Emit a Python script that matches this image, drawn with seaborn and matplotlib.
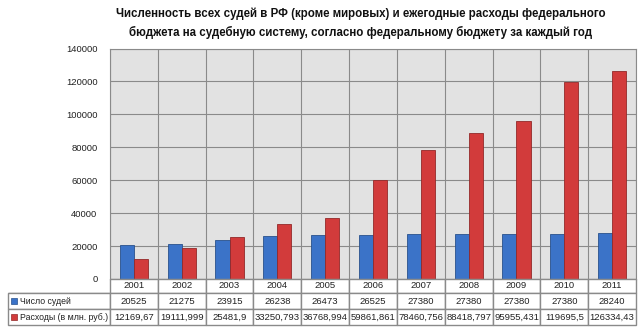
import matplotlib
matplotlib.use("Agg")
import matplotlib.pyplot as plt
import seaborn as sns
import pandas as pd
import numpy as np
from matplotlib.table import Table
from matplotlib.patches import Rectangle

years = ["2001", "2002", "2003", "2004", "2005", "2006", "2007", "2008", "2009", "2010", "2011"]
judges = [20525, 21275, 23915, 26238, 26473, 26525, 27380, 27380, 27380, 27380, 28240]
expenses = [12169.67, 19111.999, 25481.9, 33250.793, 36768.994, 59861.861, 78460.756,
            88418.797, 95955.431, 119695.5, 126334.43]
judges_txt = ["20525", "21275", "23915", "26238", "26473", "26525", "27380", "27380", "27380", "27380", "28240"]
expenses_txt = ["12169,67", "19111,999", "25481,9", "33250,793", "36768,994", "59861,861",
                "78460,756", "88418,797", "95955,431", "119695,5", "126334,43"]
series = ["Число судей", "Расходы (в млн. руб.)"]
colors = ["#3b73c8", "#d23b3b"]
title = ("Численность всех судей в РФ (кроме мировых) и ежегодные расходы федерального\n"
         "бюджета на судебную систему, согласно федеральному бюджету за каждый год")

df = pd.DataFrame({
    "year": years * 2,
    "value": judges + expenses,
    "series": [series[0]] * len(years) + [series[1]] * len(years),
})

sns.set_theme(style="white")
plt.rcParams["font.family"] = ["Liberation Sans", "DejaVu Sans"]

fig = plt.figure(figsize=(6.4, 3.29), dpi=100)
W, H = 640, 329
x0, x1, ytop, ybot = 110, 636, 48.5, 279
ax = fig.add_axes([x0 / W, 1 - ybot / H, (x1 - x0) / W, (ybot - ytop) / H])
ax.set_facecolor("#e2e2e2")

sns.barplot(data=df, x="year", y="value", hue="series", palette=colors, width=0.59,
            ax=ax, legend=False, edgecolor="none", saturation=1)
for i, bar in enumerate(ax.patches):
    c = colors[0] if i < len(years) else colors[1]
    dark = tuple(v * 0.7 for v in matplotlib.colors.to_rgb(c))
    bar.set_edgecolor(dark)
    bar.set_linewidth(0.6)

ax.set_ylim(0, 140000)
ax.set_xlim(-0.5, len(years) - 0.5)
ax.set_yticks(np.arange(0, 140001, 20000))
ax.set_yticklabels([str(v) for v in range(0, 140001, 20000)], fontsize=6.8, color="#222222")
ax.set_xticks([])
ax.set_xticks(np.arange(-0.5, len(years), 1), minor=True)
ax.tick_params(axis="x", which="minor", length=0)
ax.tick_params(axis="y", length=0, pad=9)
ax.grid(axis="y", color="#8a8a8a", linewidth=0.8)
ax.grid(axis="x", which="minor", color="#8a8a8a", linewidth=0.8)
ax.set_axisbelow(True)
ax.set_xlabel("")
ax.set_ylabel("")
for s in ax.spines.values():
    s.set_color("#8a8a8a")
    s.set_linewidth(0.8)

# data table
tab_left, tab_right = 8, 636
row_h = [14, 16, 16]
tab_top = ybot
tab_bottom = tab_top + sum(row_h)
tax = fig.add_axes([0, 0, 1, 1])
tax.set_xlim(0, W)
tax.set_ylim(H, 0)
tax.axis("off")
tbl = Table(tax, bbox=[tab_left / W, 1 - tab_bottom / H, (tab_right - tab_left) / W, sum(row_h) / H])
lab_w = (x0 - tab_left) / (tab_right - tab_left)
col_w = (1 - lab_w) / len(years)
rows = [years, judges_txt, expenses_txt]
for r in range(3):
    hfrac = row_h[r] / sum(row_h)
    cell = tbl.add_cell(r, 0, lab_w, hfrac, text="", loc="left",
                        edgecolor="#8a8a8a", facecolor="white")
    if r == 0:
        cell.visible_edges = "B"
    for c in range(len(years)):
        cell = tbl.add_cell(r, c + 1, col_w, hfrac, text=rows[r][c], loc="center",
                            edgecolor="#8a8a8a", facecolor="white")
        cell.get_text().set_fontsize(6.8)
        cell.get_text().set_color("#222222")
tbl.auto_set_font_size(False)
tax.add_table(tbl)

# legend keys and series names in the table
for r, (name, col) in enumerate(zip(series, colors), start=1):
    yc = tab_top + sum(row_h[:r]) + row_h[r] / 2
    tax.add_patch(Rectangle((11, yc - 3), 6, 6, facecolor=col,
                            edgecolor=tuple(v * 0.7 for v in matplotlib.colors.to_rgb(col)),
                            linewidth=0.5))
    tax.text(20, yc, name, ha="left", va="center", fontsize=6.3, color="#222222")

fig.text(361 / W, 1 - 23 / H, title, ha="center", va="center", fontsize=8.3,
         fontweight="bold", color="#111111", linespacing=1.6)

fig.savefig("out.png", dpi=100, facecolor="white")
